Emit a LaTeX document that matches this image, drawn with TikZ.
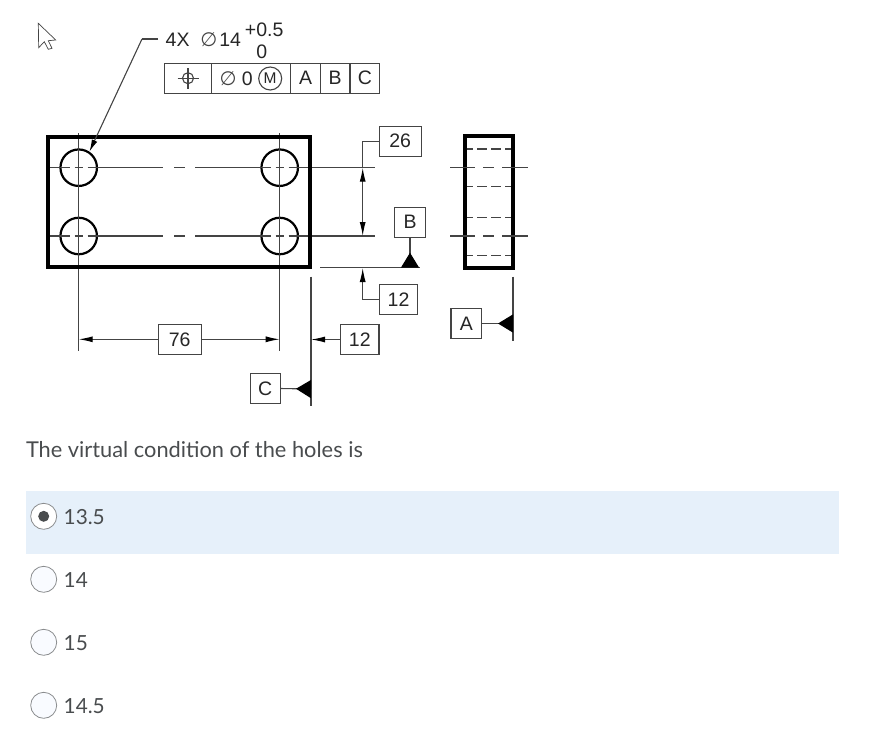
\documentclass[tikz,border=0pt]{standalone}
\usepackage{fontspec}
\setmainfont{Liberation Sans}
\newfontfamily\quizfont{Lato}
\newfontfamily\symfont{DejaVu Sans}
\usetikzlibrary{positioning, arrows.meta}

\definecolor{inkgray}{HTML}{444444}
\definecolor{textgray}{HTML}{262626}
\definecolor{quizgray}{HTML}{494C4E}
\definecolor{bandblue}{HTML}{E6F0FA}
\definecolor{radiofill}{HTML}{F9FBFF}
\definecolor{radioedge}{HTML}{8A8C8E}

\begin{document}
\begin{tikzpicture}[
			x=1pt, y=-1pt,
			nodes = {
				align = center,
				inner sep = 0pt,
				outer sep = 0pt
			},
			dimtip/.tip={Latex[length=14pt,width=6pt,color=black]},
			datumtip/.tip={Triangle[reversed,length=15pt,width=18pt,color=black]},
			dimtext/.style={
				text=textgray,
				font=\fontsize{19.5}{20}\selectfont
			},
			diasym/.style={
				text=inkgray,
				font=\symfont\fontsize{19.5}{20}\selectfont
			},
			box/.style={
				dimtext,
				draw=inkgray,
				fill=white,
				line width=1.1pt,
				rectangle
			},
			cell/.style={
				box,
				minimum height=29.7pt
			},
			outline/.style={
				line width=4pt,
				draw=black
			},
			hole/.style={
				circle,
				draw=black,
				line width=2.2pt,
				minimum size=36.5pt
			},
			fine/.style={
				line width=1.1pt,
				draw=inkgray
			},
			hidden/.style={
				fine,
				dash pattern=on 6.5pt off 3.8pt on 10pt off 4pt on 10pt off 4pt on 6.5pt off 10pt
			},
			radio/.style={
				circle,
				draw=radioedge,
				fill=radiofill,
				line width=0.8pt,
				minimum size=26pt
			},
			question/.style={
				text=quizgray,
				anchor=west,
				font=\quizfont\fontsize{21.8}{24}\selectfont
			},
			answer/.style={
				text=quizgray,
				anchor=west,
				yshift=-0.7pt,
				font=\quizfont\fontsize{20.8}{24}\selectfont
			}
		]
			\useasboundingbox (0,0) rectangle (877,728);

			% cursor
			\draw[inkgray, line width=0.7pt, fill=white] (38.3,23.3) -- (38.7,47.7) -- (44.3,41.7) -- (48.3,49.3) -- (52,48.3) -- (48.3,40.7) -- (55.7,40) -- cycle;

			% front view
			\node[hole] (htl) at (78.7,167.7) {};
			\node[hole] (htr) at (279.7,167.7) {};
			\node[hole] (hbl) at (78.7,236) {};
			\node[hole] (hbr) at (279.7,236) {};

			\coordinate (vtl) at (78.7,133);
			\coordinate (vtr) at (279.7,133);
			\coordinate (vbl) at (78.7,351);
			\coordinate (vbr) at (279.7,351);

			\draw[fine] (vtl) -- (htl.north) (htl.south) -- (hbl.north) (hbl.south) -- (vbl);
			\draw[fine] (vtr) -- (htr.north) (htr.south) -- (hbr.north) (hbr.south) -- (vbr);

			\foreach \row/\y in {t/167.7,b/236} {
				\coordinate (l\row) at (49,\y);
				\coordinate (ma\row) at (163,\y);
				\coordinate (mb\row) at (174,\y);
				\coordinate (mc\row) at (185,\y);
				\coordinate (md\row) at (195,\y);
				\coordinate (r\row) at (375,\y);
				\draw[fine] (l\row) -- (h\row l.west);
				\draw[fine] (h\row l.east) -- (ma\row);
				\draw[fine] (mb\row) -- (mc\row);
				\draw[fine] (md\row) -- (h\row r.west);
				\draw[fine] (h\row r.east) -- (r\row);
			}

			\foreach \h in {htl,htr,hbl,hbr} {
				\draw[fine] ([xshift=-4pt]\h.center) -- ([xshift=4pt]\h.center);
				\draw[fine] ([yshift=-4pt]\h.center) -- ([yshift=4pt]\h.center);
				\draw[fine] ([xshift=-9pt]\h.center) -- (\h.west);
				\draw[fine] ([xshift=9pt]\h.center) -- (\h.east);
				\draw[fine] ([yshift=9pt]\h.center) -- (\h.south);
				\draw[fine] ([yshift=-9pt]\h.center) -- (\h.north);
			}

			\node[outline, rectangle, minimum width=262.4pt, minimum height=130.5pt] (plate) at (178.8,201.8) {};

			% callout
			\node[dimtext, anchor=west] (call) at (165.7,39.8) {4X};
			\node[diasym] (calldia) at (208.8,40) {∅};
			\node[dimtext, anchor=west] (callnum) at (219.3,39.8) {14};
			\node[dimtext] (tolup) at (264.2,29.5) {+0.5};
			\node[dimtext] (tollow) at (261.7,51.3) {0};
			\coordinate (callend) at (158,39);
			\coordinate (callbend) at (142,39);
			\coordinate (calltip) at (89.5,151.5);
			\draw[fine] (callend) -- (callbend);
			\draw[fine, -{Latex[length=12pt,width=6pt,color=black]}] (callbend) -- (calltip);

			% frame
			\node[cell, minimum width=46.6pt] (fpos) at (188,78.2) {};
			\node[cell, minimum width=79.4pt, right=0pt of fpos] (ftol) {};
			\node[cell, minimum width=29.6pt, right=0pt of ftol] (fa) {A};
			\node[cell, minimum width=29.7pt, right=0pt of fa] (fb) {B};
			\node[cell, minimum width=29.7pt, right=0pt of fb] (fc) {C};

			\node[circle, draw=inkgray, line width=1.1pt, minimum size=11pt] (possym) at (fpos) {};
			\draw[fine] ([xshift=-10.5pt]possym.center) -- ([xshift=10.5pt]possym.center);
			\draw[fine] ([yshift=-10.5pt]possym.center) -- ([yshift=10.5pt]possym.center);

			\node[diasym] (fdia) at (228,79) {∅};
			\node[dimtext] (fzero) at (247.3,78.5) {0};
			\node[circle, draw=inkgray, line width=1.1pt, minimum size=23pt, text=textgray, font=\fontsize{15.5}{16}\selectfont] (fm) at (270.2,78.5) {M};

			% dimensions
			\node[box, minimum width=41.7pt, minimum height=29.7pt] (d26) at (400.2,141.2) {26};
			\coordinate (d26top) at (362.7,167.7);
			\coordinate (d26bot) at (362.7,236);
			\draw[fine] (d26.west) -| (d26top);
			\draw[fine, {dimtip}-{dimtip}] (d26top) -- (d26bot);

			\coordinate (bline) at (320,267.7);
			\coordinate (bfoot) at (410,267.7);
			\coordinate (bend) at (420,267.7);
			\draw[fine] (bline) -- (bend);
			\node[box, minimum width=31.4pt, minimum height=30.3pt] (datb) at (410,222.2) {B};
			\draw[fine, -{datumtip}] (datb.south) -- (bfoot);

			\node[box, minimum width=38.4pt, minimum height=30pt] (d12a) at (398.5,299.7) {12};
			\coordinate (d12atip) at (362.7,268);
			\draw[fine, -{dimtip}] (d12a.west) -| (d12atip);

			\coordinate (vltop) at (311,276.7);
			\coordinate (vlbot) at (311,406);
			\draw[fine] (vltop) -- (vlbot);

			\node[box, minimum width=38.3pt, minimum height=29.6pt] (d12b) at (359.8,339.5) {12};
			\coordinate (d12btip) at (311,339.5);
			\draw[fine, -{dimtip}] (d12b.west) -- (d12btip);

			\node[box, minimum width=42.7pt, minimum height=30pt] (d76) at (179.7,339.3) {76};
			\coordinate (d76l) at (78.7,339.3);
			\coordinate (d76r) at (279.7,339.3);
			\draw[fine, -{dimtip}] (d76.west) -- (d76l);
			\draw[fine, -{dimtip}] (d76.east) -- (d76r);

			\node[box, minimum width=29.7pt, minimum height=30.4pt] (datc) at (265.2,388.5) {C};
			\coordinate (cfoot) at (311,389);
			\draw[fine, -{datumtip}] (datc.east) -- (cfoot);

			% side view
			\node[outline, rectangle, minimum width=47.4pt, minimum height=131.6pt] (side) at (488.8,201.7) {};
			\foreach \n/\y in {a/149,b/186.7,c/217.3,d/255.3} {
				\coordinate (sl\n) at (466.7,\y);
				\coordinate (sr\n) at (511.2,\y);
				\draw[hidden] (sl\n) -- (sr\n);
			}
			\foreach \row/\y in {t/167.7,b/236} {
				\coordinate (sa\row) at (450,\y);
				\coordinate (sb\row) at (475,\y);
				\coordinate (sc\row) at (483,\y);
				\coordinate (sd\row) at (494,\y);
				\coordinate (se\row) at (502,\y);
				\coordinate (sf\row) at (528.3,\y);
				\draw[fine] (sa\row) -- (sb\row);
				\draw[fine] (sc\row) -- (sd\row);
				\draw[fine] (se\row) -- (sf\row);
			}

			\coordinate (altop) at (513,276.7);
			\coordinate (albot) at (513,340.7);
			\draw[fine] (altop) -- (albot);
			\node[box, minimum width=30.7pt, minimum height=30.4pt] (data) at (466.3,323.5) {A};
			\coordinate (afoot) at (513,323.5);
			\draw[fine, -{datumtip}] (data.east) -- (afoot);

			% question
			\node[question] (qtext) at (26,449.8) {The virtual condition of the holes is};
			\fill[bandblue] (26,491) rectangle (839,554);

			\node[radio, fill=white] (r1) at (43.7,516.3) {};
			\node[circle, fill=quizgray, minimum size=11pt] (r1dot) at (r1) {};
			\node[radio] (r2) at (43.7,579.3) {};
			\node[radio] (r3) at (43.7,642.3) {};
			\node[radio] (r4) at (43.7,705.3) {};

			\node[answer, right=7pt of r1] (o1) {13.5};
			\node[answer, right=7pt of r2] (o2) {14};
			\node[answer, right=7pt of r3] (o3) {15};
			\node[answer, right=7pt of r4] (o4) {14.5};

		\end{tikzpicture}
\end{document}
